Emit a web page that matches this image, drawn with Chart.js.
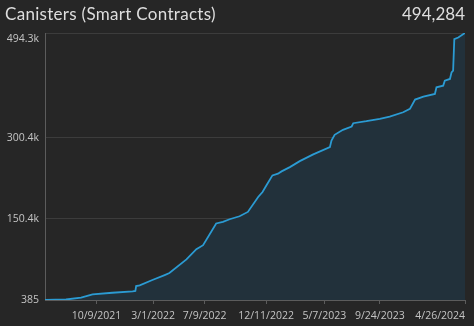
<!DOCTYPE html>
<html>
<head>
<meta charset="utf-8">
<script src="https://cdn.jsdelivr.net/npm/chart.js@4.4.1/dist/chart.umd.min.js"></script>
<style>
  body { margin: 0; background: #262626; }
  #wrap { position: relative; width: 474px; height: 326px; background: #262626; overflow: hidden; }
  #title, #total { position: absolute; top: 3px; font-family: "Lato", sans-serif; font-size: 17px; color: #dedede; line-height: 22px; }
  #title { left: 5px; letter-spacing: 0.3px; }
  #total { right: 9px; }
  canvas { position: absolute; left: 0; top: 0; }
</style>
</head>
<body>
<div id="wrap">
  <canvas id="canisters" width="474" height="326"></canvas>
  <div id="title">Canisters (Smart Contracts)</div>
  <div id="total">494,284</div>
</div>
<script>
const dates = [
  '2021-06-01', '2021-07-24', '2021-08-31', '2021-09-29', '2021-11-18', '2022-01-08',
  '2022-01-15', '2022-01-17', '2022-01-26', '2022-02-27', '2022-03-30', '2022-04-11',
  '2022-05-24', '2022-06-18', '2022-07-05', '2022-08-07', '2022-08-24', '2022-09-10',
  '2022-10-05', '2022-10-26', '2022-11-21', '2022-12-02', '2022-12-12', '2022-12-27',
  '2023-01-10', '2023-01-19', '2023-02-09', '2023-03-06', '2023-04-09', '2023-05-21',
  '2023-05-25', '2023-06-02', '2023-06-23', '2023-07-15', '2023-07-19', '2023-08-21',
  '2023-09-24', '2023-10-19', '2023-11-22', '2023-12-09', '2023-12-22', '2024-01-12',
  '2024-02-10', '2024-02-14', '2024-03-02', '2024-03-06', '2024-03-19', '2024-03-23',
  '2024-03-27', '2024-03-30', '2024-04-09', '2024-04-26'
];
const canisters = [
  385, 1300, 4600, 10900, 13800, 16400,
  17000, 26200, 27500, 37300, 46500, 50200,
  75500, 94500, 101800, 141900, 144800, 149800,
  155300, 163300, 190900, 200100, 212500, 230900,
  234100, 238300, 246200, 257300, 269700, 283100,
  295500, 306000, 315200, 321300, 327400, 331100,
  335500, 339800, 347700, 354000, 371100, 376600,
  381600, 393800, 396900, 406100, 409300, 421500,
  424600, 483000, 486000, 494284
];
const xTickDates = ['2021-10-09', '2022-03-01', '2022-07-09', '2022-12-11', '2023-05-07', '2023-09-24', '2024-04-26'];
const yTickValues = [385, 150385, 300385, 494284];

const toTime = (s) => new Date(s + 'T00:00:00Z').getTime();
const points = dates.map((d, i) => ({ x: toTime(d), y: canisters[i] }));
const xMin = toTime(dates[0]);

function fmtDate(t) {
  if (t === xMin) return '';
  const d = new Date(t);
  return (d.getUTCMonth() + 1) + '/' + d.getUTCDate() + '/' + d.getUTCFullYear();
}
function fmtValue(v) {
  if (v < 1000) return String(v);
  return (v / 1000).toFixed(1) + 'k';
}

const tickFont = { family: '"Open Sans", sans-serif', size: 10.5 };

new Chart(document.getElementById('canisters'), {
  type: 'line',
  data: {
    datasets: [{
      data: points,
      borderColor: '#2b9bd3',
      backgroundColor: '#22313b',
      borderWidth: 1.8,
      pointRadius: 0,
      tension: 0,
      fill: 'start'
    }]
  },
  options: {
    responsive: false,
    animation: false,
    layout: { padding: { top: 33, right: 9, left: 0, bottom: 0 } },
    plugins: { legend: { display: false }, tooltip: { enabled: false } },
    scales: {
      x: {
        type: 'linear',
        min: xMin,
        max: toTime(dates[dates.length - 1]),
        // blank tick at the start so 'inner' only right-aligns the last label
        afterBuildTicks: (scale) => {
          scale.ticks = [{ value: xMin }].concat(xTickDates.map(d => ({ value: toTime(d) })));
        },
        afterFit: (scale) => { scale.height = 26; scale.paddingLeft = 0; scale.paddingRight = 0; },
        border: { color: '#5c5c5c', width: 1 },
        grid: {
          drawOnChartArea: false, drawTicks: true, tickLength: 4,
          color: (ctx) => (ctx.index === 0 ? 'rgba(0,0,0,0)' : '#5c5c5c')
        },
        ticks: {
          autoSkip: false, maxRotation: 0, padding: 6, align: 'inner',
          color: '#c4c4c4', font: tickFont,
          callback: (v) => fmtDate(v)
        }
      },
      y: {
        min: 385,
        max: 494284,
        afterBuildTicks: (scale) => { scale.ticks = yTickValues.map(v => ({ value: v })); },
        afterFit: (scale) => { scale.width = 45; },
        border: { color: '#5c5c5c', width: 1 },
        grid: { drawTicks: false, color: '#3c3c3c' },
        ticks: {
          padding: 6,
          color: '#c4c4c4', font: tickFont,
          callback: (v) => v === 494284 ? ['', fmtValue(v)] : fmtValue(v)
        }
      }
    }
  }
});
</script>
</body>
</html>
